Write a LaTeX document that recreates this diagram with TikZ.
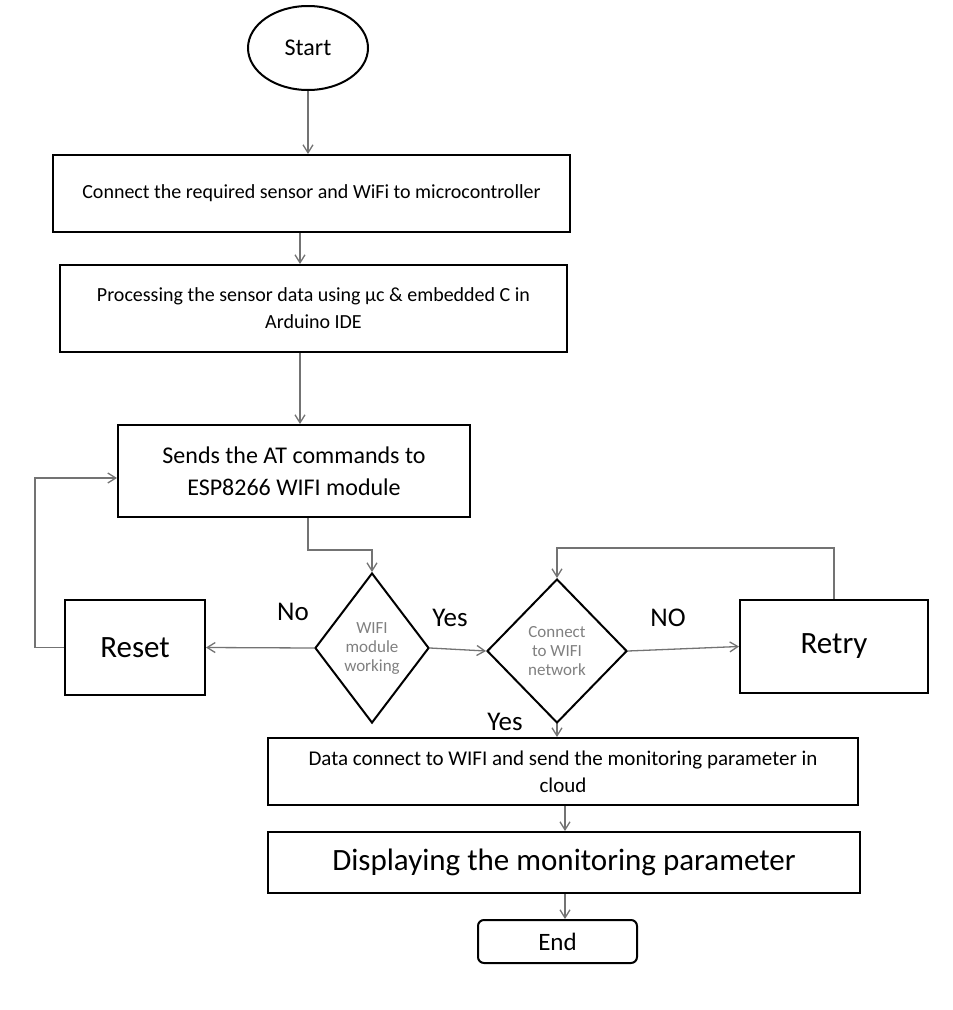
\documentclass[tikz,border=0pt]{standalone}
\usepackage{fontspec}
\setmainfont{Carlito}
\usetikzlibrary{shapes.geometric,arrows.meta}
\begin{document}
\begin{tikzpicture}[x=1pt,y=-1pt,
 box/.style={draw,line width=2pt,inner sep=0pt,align=center},
 dia/.style={draw,line width=2pt,diamond,minimum width=114pt,minimum height=150pt,inner sep=0pt,align=center,font=\fontsize{17}{19}\selectfont\color{gray}},
 arr/.style={draw=gray!90!black,line width=1.3pt,-{Straight Barb[length=8pt,width=10pt]}},
 lbl/.style={font=\fontsize{27}{30}\selectfont}]
\useasboundingbox (0,0) rectangle (953,1010);
\node[draw,line width=2pt,ellipse,minimum width=120pt,minimum height=84pt,font=\fontsize{24}{28}\selectfont] (s) at (308,48) {Start};
\node[box,minimum width=517pt,minimum height=77pt,font=\fontsize{20}{24}\selectfont] (b1) at (311.5,193.5) {Connect the required sensor and WiFi to microcontroller};
\node[box,minimum width=507pt,minimum height=87pt,font=\fontsize{20}{27}\selectfont] (b2) at (313.5,308.5) {Processing the sensor data using µc \& embedded C in\\Arduino IDE};
\node[box,minimum width=352pt,minimum height=92pt,font=\fontsize{24}{32}\selectfont] (b3) at (294,471) {Sends the AT commands to\\ESP8266 WIFI module};
\node[dia] (d1) at (372,648) {WIFI\\module\\working};
\node[dia,minimum width=140pt,minimum height=144pt] (d2) at (557,651) {Connect\\to WIFI\\network};
\node[box,minimum width=140pt,minimum height=95pt,font=\fontsize{31}{34}\selectfont] (r) at (135,647.5) {Reset};
\node[box,minimum width=188pt,minimum height=93pt,font=\fontsize{31}{34}\selectfont] (rt) at (834,646.5) {Retry};
\node[box,minimum width=590pt,minimum height=67pt,font=\fontsize{21}{27}\selectfont] (b4) at (563,771.5) {Data connect to WIFI and send the monitoring parameter in\\cloud};
\node[box,minimum width=592pt,minimum height=61pt,font=\fontsize{31}{34}\selectfont] (b5) at (564,862.5) {Displaying the monitoring parameter};
\node[box,rounded corners=6pt,minimum width=159pt,minimum height=43pt,font=\fontsize{25}{28}\selectfont] (e) at (557.5,941.5) {End};
\draw[arr] (s.south) -- (b1.north -| s.south);
\draw[arr] (b1.south -| 300,0) -- (b2.north -| 300,0);
\draw[arr] (b2.south -| 300,0) -- (b3.north -| 300,0);
\draw[arr] (b3.south -| 308,0) |- (372,550) -- (d1.north);
\draw[arr] (d1.west) -- (r.east);
\draw[arr] (r.west) -| (35,478) -- (b3.west |- 0,478);
\draw[arr] (d1.east) -- (d2.west);
\draw[arr] (d2.east) -- (rt.west);
\draw[arr] (rt.north) |- (557,548) -- (d2.north);
\draw[arr] (d2.south) -- (b4.north -| d2.south);
\draw[arr] (b4.south -| 565,0) -- (b5.north -| 565,0);
\draw[arr] (b5.south -| 565,0) -- (e.north -| 565,0);
\node[lbl] at (293,612) {No};
\node[lbl] at (450,618) {Yes};
\node[lbl] at (668,618) {NO};
\node[lbl] at (505,722) {Yes};
\end{tikzpicture}
\end{document}
